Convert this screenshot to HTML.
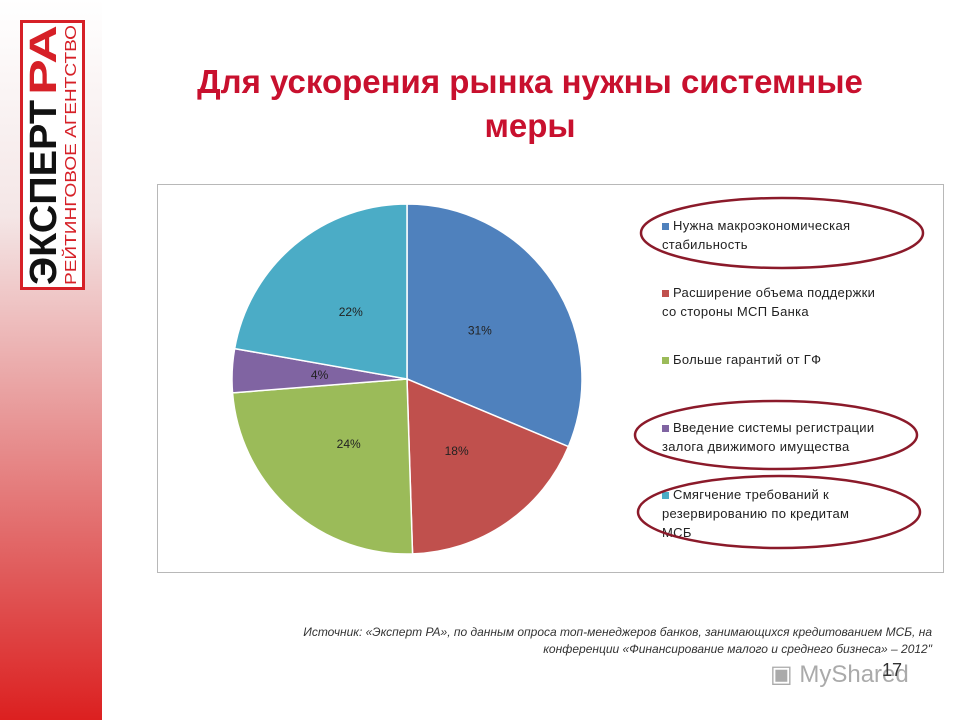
<!DOCTYPE html>
<html><head><meta charset="utf-8"><style>
body{margin:0;width:960px;height:720px;overflow:hidden;background:#fff;font-family:"Liberation Sans",sans-serif;position:relative}
.abs{position:absolute}
</style></head><body>
<div class="abs" style="left:0;top:0;width:102px;height:720px;background:linear-gradient(#fff 0%,#f4e6e6 30%,#e9a0a0 55%,#e05a5a 80%,#dc2020 100%)"></div>
<div class="abs" style="left:20px;top:20px;width:59px;height:264px;border:3px solid #d62027;background:#fff">
 <svg width="59" height="264">
  <text transform="translate(33,262) rotate(-90)" font-family="Liberation Sans" font-weight="bold" font-size="38" fill="#111" textLength="185" lengthAdjust="spacingAndGlyphs">ЭКСПЕРТ</text>
  <text transform="translate(33,72) rotate(-90)" font-family="Liberation Sans" font-weight="bold" font-size="38" fill="#d62027" textLength="70" lengthAdjust="spacingAndGlyphs">РА</text>
  <text transform="translate(53,262) rotate(-90)" font-family="Liberation Sans" font-size="16" fill="#d62027" textLength="260" lengthAdjust="spacingAndGlyphs">РЕЙТИНГОВОЕ АГЕНТСТВО</text>
 </svg>
</div>
<div class="abs" style="left:110px;top:60px;width:840px;text-align:center;color:#c8102e;font-weight:bold;font-size:33px;line-height:44px">Для ускорения рынка нужны системные<br>меры</div>
<div class="abs" style="left:157px;top:184px;width:785px;height:387px;border:1px solid #b8b8b8"></div>
<svg class="abs" style="left:0;top:0" width="960" height="720" id="pie"></svg>
<div class="abs" style="left:662px;top:216px;font-size:13px;line-height:19px;color:#222;letter-spacing:0.3px">
 <div class="abs" style="top:0;width:260px"><span style="display:inline-block;width:7px;height:7px;background:#4f81bd;margin-right:4px"></span>Нужна макроэкономическая<br>стабильность</div>
 <div class="abs" style="top:67px;width:260px"><span style="display:inline-block;width:7px;height:7px;background:#c0504d;margin-right:4px"></span>Расширение объема поддержки<br>со стороны МСП Банка</div>
 <div class="abs" style="top:134px;width:260px"><span style="display:inline-block;width:7px;height:7px;background:#9bbb59;margin-right:4px"></span>Больше гарантий от ГФ</div>
 <div class="abs" style="top:202px;width:260px"><span style="display:inline-block;width:7px;height:7px;background:#8064a2;margin-right:4px"></span>Введение системы регистрации<br>залога движимого имущества</div>
 <div class="abs" style="top:269px;width:260px"><span style="display:inline-block;width:7px;height:7px;background:#4bacc6;margin-right:4px"></span>Смягчение требований к<br>резервированию по кредитам<br>МСБ</div>
</div>
<svg class="abs" style="left:0;top:0" width="960" height="720">
 <ellipse cx="782" cy="233" rx="141" ry="35" fill="none" stroke="#8b1a2a" stroke-width="2.5"/>
 <ellipse cx="776" cy="435" rx="141" ry="34" fill="none" stroke="#8b1a2a" stroke-width="2.5"/>
 <ellipse cx="779" cy="512" rx="141" ry="36" fill="none" stroke="#8b1a2a" stroke-width="2.5"/>
</svg>
<div class="abs" style="left:160px;top:624px;width:772px;text-align:right;font-style:italic;font-size:12px;line-height:17px;color:#333">Источник: «Эксперт РА», по данным опроса топ-менеджеров банков, занимающихся кредитованием МСБ, на<br>конференции «Финансирование малого и среднего бизнеса» – 2012"</div>
<div class="abs" style="left:770px;top:660px;font-size:24px;color:#aaa">▣ MyShared</div>
<div class="abs" style="left:882px;top:660px;font-size:18px;color:#333">17</div>
<script>
const categories=["Нужна макроэкономическая стабильность","Расширение объема поддержки","Больше гарантий от ГФ","Введение системы регистрации","Смягчение требований"];
const values=[31,18,24,4,22];
const labels=["31%","18%","24%","4%","22%"];
const colors=["#4f81bd","#c0504d","#9bbb59","#8064a2","#4bacc6"];
const svg=document.getElementById('pie');
const cx=407,cy=379,r=175,ns="http://www.w3.org/2000/svg";
const total=values.reduce((a,b)=>a+b,0);
let a0=0;
function pt(a,rr){return [cx+rr*Math.sin(a),cy-rr*Math.cos(a)];}
values.forEach((v,i)=>{
 const a1=a0+v/total*2*Math.PI;
 const p0=pt(a0,r),p1=pt(a1,r);
 const path=document.createElementNS(ns,'path');
 path.setAttribute('d',`M${cx},${cy}L${p0[0]},${p0[1]}A${r},${r} 0 ${a1-a0>Math.PI?1:0} 1 ${p1[0]},${p1[1]}Z`);
 path.setAttribute('fill',colors[i]);path.setAttribute('stroke','#fff');path.setAttribute('stroke-width','1.5');
 
 
 svg.appendChild(path);
 const m=pt((a0+a1)/2,r*0.5);
 const t=document.createElementNS(ns,'text');
 t.setAttribute('x',m[0]);t.setAttribute('y',m[1]+4);t.setAttribute('text-anchor','middle');
 t.setAttribute('font-size','12');t.setAttribute('font-family','Liberation Sans');t.setAttribute('fill','#222');
 t.textContent=labels[i];
 
 
 svg.appendChild(t);
 a0=a1;
});
</script>
</body></html>
